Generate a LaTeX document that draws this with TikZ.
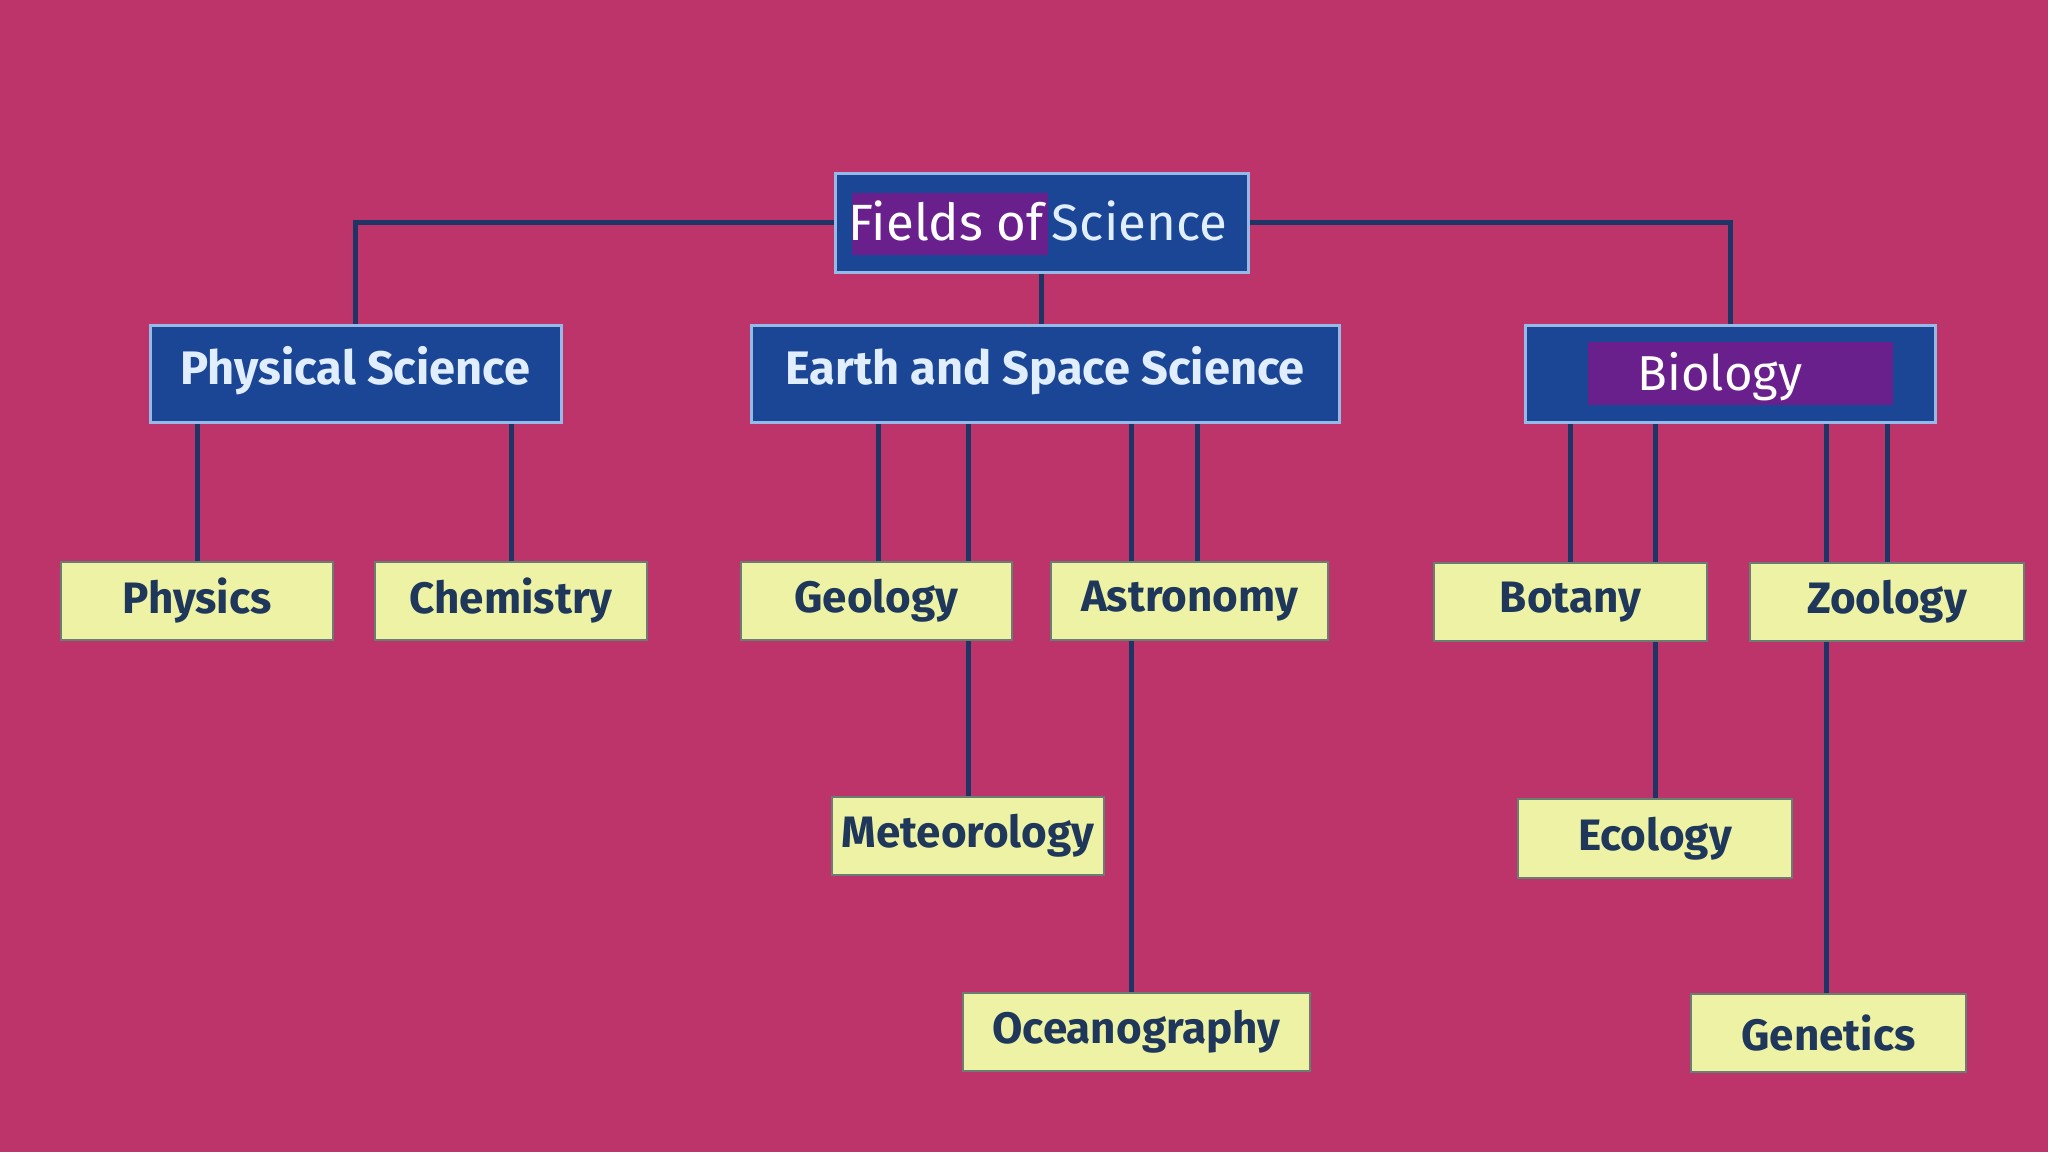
\documentclass[tikz,border=0pt]{standalone}
\usepackage{fontspec}
\setmainfont{Fira Sans}
\definecolor{bgpink}{RGB}{188,52,105}
\definecolor{boxblue}{RGB}{27,70,150}
\definecolor{boxedge}{RGB}{150,185,230}
\definecolor{hlpurple}{RGB}{106,32,140}
\definecolor{leafyellow}{RGB}{238,242,165}
\definecolor{leafedge}{RGB}{105,125,115}
\definecolor{linenavy}{RGB}{30,52,100}
\definecolor{leaftext}{RGB}{30,55,90}
\definecolor{paletext}{RGB}{225,238,255}
\begin{document}
\begin{tikzpicture}[x=1pt,y=-1pt,
  bluebox/.style={draw=boxedge, line width=3, fill=boxblue, inner sep=0, minimum height=97},
  leafbox/.style={draw=leafedge, line width=2.5, fill=leafyellow, inner sep=0, minimum height=78,
     text=leaftext, font=\fontsize{44}{50}\selectfont\bfseries},
  hl/.style={fill=hlpurple, inner sep=0},
  bluetext/.style={text=paletext, inner sep=0, font=\fontsize{47}{53}\selectfont\bfseries},
  conn/.style={draw=linenavy, line width=5}]
\fill[bgpink] (0,0) rectangle (2048,1152);
\useasboundingbox (0,0) rectangle (2048,1152);

% top level
\node[bluebox, minimum width=413, minimum height=99] (root) at (1041.5,222.5) {};
\node[hl, minimum width=196, minimum height=62] (roothl) at (950,224) {};
\node[bluetext, anchor=base, font=\fontsize{51}{56}\selectfont] (roottext) at (1038,240)
  {\textcolor{white}{Fields of}\,Science};

% second level
\node[bluebox, minimum width=411] (phys) at (355.5,373.5) {};
\node[bluetext] (physt) at (355.5,371) {Physical Science};
\node[bluebox, minimum width=588] (earth) at (1045,373.5) {};
\node[bluetext] (eartht) at (1045,371) {Earth and Space Science};
\node[bluebox, minimum width=410] (bio) at (1730,373.5) {};
\node[hl, minimum width=305, minimum height=63] (biohl) at (1740.5,373.5) {};
\node[bluetext, text=white, font=\fontsize{49}{54}\selectfont] (biot) at (1720,377) {Biology};

% leaves
\node[leafbox, minimum width=272] (physics) at (197,601) {Physics};
\node[leafbox, minimum width=272] (chem) at (511,601) {Chemistry};
\node[leafbox, minimum width=271] (geo) at (876.5,601) {Geology};
\node[leafbox, minimum width=277] (astro) at (1189.5,601) {Astronomy};
\node[leafbox, minimum width=273] (botany) at (1570.5,602) {Botany};
\node[leafbox, minimum width=274] (zoo) at (1887,602) {Zoology};
\node[leafbox, minimum width=272] (met) at (968,836) {Meteorology};
\node[leafbox, minimum width=274, minimum height=79] (eco) at (1655,838.5) {Ecology};
\node[leafbox, minimum width=347] (ocean) at (1136.5,1032) {Oceanography};
\node[leafbox, minimum width=275] (gen) at (1828.5,1033) {Genetics};

% connectors
\draw[conn] (root.west) -| (phys.north);
\draw[conn] (root.east) -| (bio.north);
\draw[conn] (root.south) -- (root.south |- earth.north);

\draw[conn] (physics.north) -- (physics.north |- phys.south);
\draw[conn] (chem.north) -- (chem.north |- phys.south);

\draw[conn] ([xshift=2]geo.north) -- ([xshift=2]geo.north |- earth.south);
\draw[conn] (met.north |- earth.south) -- (met.north |- geo.north);
\draw[conn] (met.north |- geo.south) -- (met.north);
\draw[conn] ([xshift=8]astro.north) -- ([xshift=8]astro.north |- earth.south);
\draw[conn] ([xshift=-5]ocean.north |- earth.south) -- ([xshift=-5]ocean.north |- astro.north);
\draw[conn] ([xshift=-5]ocean.north |- astro.south) -- ([xshift=-5]ocean.north);

\draw[conn] (botany.north) -- (botany.north |- bio.south);
\draw[conn] (eco.north |- bio.south) -- (eco.north |- botany.north);
\draw[conn] (eco.north |- botany.south) -- (eco.north);
\draw[conn] (zoo.north) -- (zoo.north |- bio.south);
\draw[conn] ([xshift=-2]gen.north |- bio.south) -- ([xshift=-2]gen.north |- zoo.north);
\draw[conn] ([xshift=-2]gen.north |- zoo.south) -- ([xshift=-2]gen.north);
\end{tikzpicture}
\end{document}
